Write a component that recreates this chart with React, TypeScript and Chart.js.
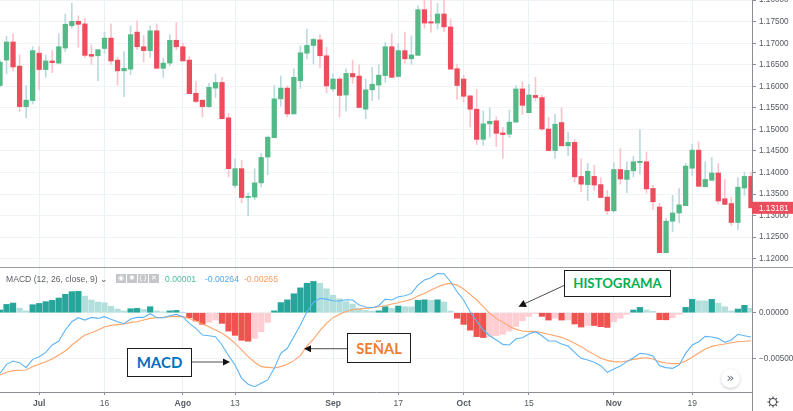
import React, { useEffect, useRef } from "react";
import { Chart, registerables } from "chart.js";

Chart.register(...registerables);

const opens = [
  1.1602, 1.1661, 1.1703, 1.1647, 1.1553, 1.1567, 1.1677, 1.1639, 1.1659, 1.1654,
  1.1689, 1.1741, 1.1751, 1.1745, 1.1674, 1.1671, 1.1688, 1.1712, 1.1661, 1.1636,
  1.1640, 1.1726, 1.1692, 1.1683, 1.1729, 1.1642, 1.1654, 1.1707, 1.1692, 1.1661,
  1.1584, 1.1568, 1.1553, 1.1596, 1.1609, 1.1527, 1.1370, 1.1409, 1.1342, 1.1343,
  1.1376, 1.1436, 1.1481, 1.1571, 1.1596, 1.1536, 1.1613, 1.1677, 1.1695, 1.1708,
  1.1671, 1.1594, 1.1617, 1.1580, 1.1630, 1.1624, 1.1547, 1.1592, 1.1603, 1.1625,
  1.1692, 1.1623, 1.1683, 1.1664, 1.1672, 1.1778, 1.1750, 1.1747, 1.1768, 1.1738,
  1.1641, 1.1617, 1.1578, 1.1547, 1.1477, 1.1513, 1.1520, 1.1492, 1.1489, 1.1517,
  1.1594, 1.1539, 1.1579, 1.1574, 1.1501, 1.1451, 1.1516, 1.1462, 1.1470, 1.1391,
  1.1372, 1.1391, 1.1372, 1.1343, 1.1311, 1.1407, 1.1384, 1.1404, 1.1423, 1.1425,
  1.1363, 1.1320, 1.1214, 1.1287, 1.1306, 1.1323, 1.1410, 1.1452, 1.1367, 1.1382,
  1.1399, 1.1339, 1.1328, 1.1284, 1.1364, 1.1391,
];
const closes = [
  1.1656, 1.1703, 1.1645, 1.1553, 1.1568, 1.1683, 1.1639, 1.1659, 1.1655, 1.1692,
  1.1744, 1.1751, 1.1744, 1.1672, 1.1670, 1.1685, 1.1712, 1.1659, 1.1636, 1.1642,
  1.1720, 1.1692, 1.1683, 1.1729, 1.1642, 1.1654, 1.1707, 1.1692, 1.1659, 1.1583,
  1.1565, 1.1553, 1.1598, 1.1609, 1.1525, 1.1409, 1.1409, 1.1342, 1.1345, 1.1376,
  1.1435, 1.1482, 1.1571, 1.1596, 1.1536, 1.1621, 1.1678, 1.1695, 1.1709, 1.1671,
  1.1601, 1.1617, 1.1579, 1.1630, 1.1622, 1.1551, 1.1592, 1.1605, 1.1626, 1.1692,
  1.1621, 1.1683, 1.1664, 1.1673, 1.1778, 1.1747, 1.1747, 1.1768, 1.1738, 1.1640,
  1.1602, 1.1577, 1.1547, 1.1477, 1.1513, 1.1519, 1.1491, 1.1488, 1.1517, 1.1594,
  1.1556, 1.1580, 1.1574, 1.1501, 1.1451, 1.1512, 1.1462, 1.1470, 1.1390, 1.1373,
  1.1403, 1.1371, 1.1342, 1.1311, 1.1407, 1.1385, 1.1405, 1.1425, 1.1426, 1.1362,
  1.1332, 1.1214, 1.1287, 1.1306, 1.1325, 1.1415, 1.1452, 1.1368, 1.1384, 1.1399,
  1.1334, 1.1326, 1.1284, 1.1366, 1.1391, 1.13181,
];
const highs = [
  1.1661, 1.1716, 1.1722, 1.1673, 1.1602, 1.1692, 1.1692, 1.1673, 1.1683, 1.1722,
  1.1768, 1.1793, 1.1764, 1.1758, 1.1696, 1.1686, 1.1726, 1.1745, 1.1667, 1.1681,
  1.1740, 1.1752, 1.1718, 1.1741, 1.1745, 1.1665, 1.1720, 1.1748, 1.1700, 1.1669,
  1.1611, 1.1568, 1.1607, 1.1629, 1.1621, 1.1537, 1.1432, 1.1428, 1.1353, 1.1409,
  1.1444, 1.1485, 1.1602, 1.1624, 1.1601, 1.1641, 1.1694, 1.1733, 1.1712, 1.1720,
  1.1691, 1.1629, 1.1621, 1.1641, 1.1661, 1.1650, 1.1617, 1.1644, 1.1650, 1.1702,
  1.1722, 1.1699, 1.1726, 1.1717, 1.1787, 1.1810, 1.1812, 1.1793, 1.1806, 1.1757,
  1.1652, 1.1626, 1.1578, 1.1593, 1.1543, 1.1550, 1.1529, 1.1505, 1.1545, 1.1602,
  1.1611, 1.1605, 1.1621, 1.1580, 1.1528, 1.1535, 1.1550, 1.1494, 1.1477, 1.1432,
  1.1421, 1.1417, 1.1388, 1.1359, 1.1423, 1.1456, 1.1425, 1.1438, 1.1499, 1.1448,
  1.1370, 1.1329, 1.1293, 1.1347, 1.1363, 1.1421, 1.1465, 1.1471, 1.1425, 1.1435,
  1.1421, 1.1384, 1.1343, 1.1388, 1.1401, 1.1401,
];
const lows = [
  1.1599, 1.1629, 1.1636, 1.1541, 1.1527, 1.1559, 1.1592, 1.1621, 1.1632, 1.1652,
  1.1681, 1.1735, 1.1691, 1.1667, 1.1651, 1.1613, 1.1677, 1.1651, 1.1603, 1.1576,
  1.1627, 1.1685, 1.1656, 1.1667, 1.1642, 1.1621, 1.1648, 1.1685, 1.1659, 1.1583,
  1.1562, 1.1529, 1.1551, 1.1574, 1.1524, 1.1390, 1.1364, 1.1330, 1.1300, 1.1337,
  1.1366, 1.1395, 1.1481, 1.1554, 1.1529, 1.1536, 1.1595, 1.1664, 1.1652, 1.1643,
  1.1585, 1.1589, 1.1529, 1.1543, 1.1607, 1.1551, 1.1525, 1.1567, 1.1570, 1.1609,
  1.1621, 1.1621, 1.1654, 1.1651, 1.1672, 1.1735, 1.1726, 1.1733, 1.1727, 1.1640,
  1.1570, 1.1564, 1.1506, 1.1465, 1.1463, 1.1482, 1.1460, 1.1433, 1.1481, 1.1517,
  1.1535, 1.1539, 1.1566, 1.1498, 1.1451, 1.1433, 1.1462, 1.1439, 1.1378, 1.1355,
  1.1335, 1.1359, 1.1342, 1.1303, 1.1308, 1.1373, 1.1353, 1.1390, 1.1396, 1.1352,
  1.1314, 1.1214, 1.1214, 1.1263, 1.1283, 1.1323, 1.1393, 1.1368, 1.1367, 1.1382,
  1.1328, 1.1326, 1.1277, 1.1267, 1.1347, 1.13181,
];
const histogram = [
  0.0003, 0.0009, 0.00105, 0.0005, 0.0002, 0.00087, 0.00101, 0.0012, 0.00134, 0.0016,
  0.002, 0.00229, 0.00232, 0.0018, 0.00138, 0.00116, 0.00108, 0.0007, 0.0004, 0.00018,
  0.00043, 0.00047, 0.00036, 0.00065, 0.0002, 0.0001, 0.0002, 0.00025, 0.00002, -0.00054,
  -0.0009, -0.00127, -0.00105, -0.0008, -0.00116, -0.002, -0.00246, -0.003, -0.0031, -0.0028,
  -0.00206, -0.00105, 0.0002, 0.0011, 0.0014, 0.00206, 0.0027, 0.0032, 0.0034, 0.0032,
  0.0026, 0.0019, 0.0015, 0.0012, 0.00094, 0.0005, 0.00025, 0.00018, 0.0002, 0.00065,
  0.00047, 0.00072, 0.00065, 0.00064, 0.00134, 0.0014, 0.00134, 0.0014, 0.00116, 0.00018,
  -0.0006, -0.00127, -0.0019, -0.0026, -0.0027, -0.0026, -0.0025, -0.00235, -0.002, -0.0015,
  -0.00087, -0.0004, -0.0001, -0.0004, -0.0008, -0.0006, -0.0008, -0.00078, -0.00123, -0.00156,
  -0.00138, -0.00139, -0.00152, -0.0016, -0.001, -0.0006, -0.00018, 0.00029, 0.00058, 0.00029,
  0.00014, -0.00076, -0.00077, -0.00054, -0.00018, 0.00058, 0.00145, 0.0013, 0.00129, 0.00145,
  0.00105, 0.00065, 0.0002, 0.0004, 0.0008, 0.0005,
];
const macdLine = [
  -0.00659, -0.00561, -0.00525, -0.00543, -0.00597, -0.00507, -0.00478, -0.00431, -0.00351, -0.00308,
  -0.00188, -0.00098, -0.00054, -0.0008, -0.00051, -0.00062, -0.00043, -0.00072, -0.00098, -0.00119,
  -0.00069, -0.00051, -0.00051, -0.00011, -0.00054, -0.00054, -0.00033, -0.00018, -0.00043, -0.00116,
  -0.0017, -0.00243, -0.0025, -0.00261, -0.00351, -0.00467, -0.00568, -0.00713, -0.00778, -0.00804,
  -0.00767, -0.00731, -0.00605, -0.00442, -0.00387, -0.00261, -0.00134, 0.00011, 0.00112, 0.00156,
  0.00148, 0.0013, 0.00127, 0.00141, 0.00138, 0.00083, 0.00062, 0.00054, 0.00076, 0.00148,
  0.00138, 0.00174, 0.00185, 0.0021, 0.003, 0.00355, 0.0038, 0.00427, 0.00424, 0.00337,
  0.00228, 0.00138, 0.00011, -0.00091, -0.00188, -0.0025, -0.00297, -0.00344, -0.00351, -0.00286,
  -0.00272, -0.00232, -0.00206, -0.0025, -0.00308, -0.00308, -0.0034, -0.00362, -0.00431, -0.00496,
  -0.00514, -0.00539, -0.00576, -0.00648, -0.00612, -0.00579, -0.00532, -0.00489, -0.00442, -0.00449,
  -0.00471, -0.00576, -0.00597, -0.00605, -0.00568, -0.00442, -0.00351, -0.00315, -0.00257, -0.00264,
  -0.00279, -0.00322, -0.00297, -0.00235, -0.0025, -0.00264,
];
const signalLine = [
  -0.00677, -0.00648, -0.0063, -0.00626, -0.00623, -0.00586, -0.00561, -0.00532, -0.00503, -0.0046,
  -0.00416, -0.00351, -0.00297, -0.00243, -0.00217, -0.00188, -0.00156, -0.00138, -0.0013, -0.00123,
  -0.00105, -0.00098, -0.0008, -0.00062, -0.00054, -0.00051, -0.00043, -0.0004, -0.00043, -0.00062,
  -0.00091, -0.00123, -0.00152, -0.00188, -0.00224, -0.00272, -0.00333, -0.00405, -0.00478, -0.00539,
  -0.00586, -0.00594, -0.00601, -0.00586, -0.00561, -0.00521, -0.00467, -0.00362, -0.00286, -0.00195,
  -0.00116, -0.00054, -0.00018, 0.00014, 0.00033, 0.0004, 0.00047, 0.00054, 0.00065, 0.00076,
  0.00094, 0.00109, 0.00127, 0.00145, 0.00181, 0.0021, 0.00246, 0.00279, 0.00308, 0.00319,
  0.003, 0.00257, 0.00199, 0.00138, 0.00065, -0.00007, -0.00062, -0.00105, -0.00148, -0.00181,
  -0.00199, -0.00206, -0.00203, -0.00217, -0.00235, -0.0025, -0.00268, -0.00297, -0.00333, -0.00369,
  -0.00416, -0.00453, -0.00496, -0.00518, -0.00532, -0.00536, -0.00525, -0.00507, -0.00496, -0.00489,
  -0.00503, -0.00532, -0.00547, -0.00554, -0.00554, -0.00525, -0.00485, -0.00438, -0.00395, -0.00366,
  -0.00351, -0.0034, -0.00326, -0.00315, -0.00311, -0.00304,
];
const xTickIndex = [6, 16, 28, 36, 51, 61, 71, 81, 94, 106];
const xTickLabels = ["Jul", "16", "Ago", "13", "Sep", "17", "Oct", "15", "Nov", "19"];
const monthLabels = ["Jul", "Ago", "Sep", "Oct", "Nov"];
const priceTicks = [1.12, 1.125, 1.13, 1.135, 1.14, 1.145, 1.15, 1.155, 1.16, 1.165, 1.17, 1.175, 1.18];
const macdTicks = [0, -0.005];

const AXIS_FONT = "'Liberation Sans', Arial, sans-serif";
const GRID_X = "#e9f0f4";
const GRID_Y = "#f0f3f6";
const AXIS_LINE = "#8a8d93";
const TEXT = "#555a62";
const UP = "#53b987";
const DOWN = "#eb4d5c";
const SLOT = 6.53;
const PLOT_W = 752;

const xScale = (showLabels: boolean) => ({
  type: "linear" as const,
  min: 0,
  max: PLOT_W / SLOT,
  offset: false,
  afterBuildTicks: (axis: any) => {
    axis.ticks = xTickIndex.map((value) => ({ value }));
  },
  afterFit: (axis: any) => {
    axis.height = showLabels ? 19 : 0;
    axis.paddingLeft = 0;
    axis.paddingRight = 0;
  },
  grid: { color: GRID_X, offset: false, drawTicks: showLabels, tickLength: 3, tickColor: AXIS_LINE },
  border: { display: showLabels, color: AXIS_LINE, width: 1 },
  ticks: {
    display: showLabels,
    autoSkip: false,
    maxRotation: 0,
    padding: 4,
    color: TEXT,
    font: (ctx: any) => ({
      family: AXIS_FONT,
      size: 8.5,
      weight: monthLabels.includes(xTickLabels[ctx.index]) ? "bold" : "normal",
    }),
    callback: (_v: any, i: number) => xTickLabels[i],
  },
});

const yScale = (min: number, max: number, ticks: number[], fmt: (v: number) => string) => ({
  position: "right" as const,
  min,
  max,
  afterBuildTicks: (axis: any) => {
    axis.ticks = ticks.map((value) => ({ value }));
  },
  afterFit: (axis: any) => {
    axis.width = 41;
    axis.paddingTop = 0;
    axis.paddingBottom = 0;
  },
  grid: { color: GRID_Y, tickLength: 4, tickColor: AXIS_LINE },
  border: { color: AXIS_LINE, width: 1 },
  ticks: {
    padding: 3,
    color: TEXT,
    font: { family: AXIS_FONT, size: 8.2 },
    callback: (v: any) => fmt(Number(v)),
  },
});

const lastPricePlugin = {
  id: "lastPrice",
  afterDraw(chart: any) {
    const close = closes[closes.length - 1];
    const y = chart.scales.y.getPixelForValue(close);
    const { ctx } = chart;
    ctx.save();
    ctx.fillStyle = DOWN;
    ctx.fillRect(PLOT_W, y - 6, 41, 12);
    ctx.fillStyle = "#ffffff";
    ctx.font = `8.2px ${AXIS_FONT}`;
    ctx.textBaseline = "middle";
    ctx.fillText(close.toFixed(5), PLOT_W + 7, y + 0.5);
    ctx.restore();
  },
};

function PriceChart() {
  const ref = useRef<HTMLCanvasElement>(null);
  useEffect(() => {
    const dir = opens.map((o, i) => closes[i] >= o);
    const chart = new Chart(ref.current as HTMLCanvasElement, {
      type: "bar",
      data: {
        datasets: [
          {
            label: "Body",
            data: opens.map((o, i) => ({ x: i, y: [o, closes[i]] })) as any,
            backgroundColor: dir.map((d) => (d ? UP : DOWN)),
            barThickness: 4.6,
            order: 1,
          },
          {
            label: "Wick",
            data: lows.map((l, i) => ({ x: i, y: [l, highs[i]] })) as any,
            backgroundColor: dir.map((d) => (d ? "#bcdade" : "#fdc3ca")),
            barThickness: 1,
            order: 2,
          },
        ],
      },
      options: {
        animation: false,
        responsive: false,
        events: [],
        layout: { padding: 0 },
        datasets: { bar: { grouped: false } },
        plugins: { legend: { display: false }, tooltip: { enabled: false } },
        scales: {
          x: xScale(false) as any,
          y: yScale(1.11807, 1.18005, priceTicks, (v) => v.toFixed(5)) as any,
        },
      },
      plugins: [lastPricePlugin],
    });
    return () => chart.destroy();
  }, []);
  return <canvas ref={ref} width={793} height={267} style={{ position: "absolute", left: 0, top: 0, display: "block" }} />;
}

function MacdChart() {
  const ref = useRef<HTMLCanvasElement>(null);
  useEffect(() => {
    const shade = histogram.map((v, i) => {
      const growing = i === 0 || Math.abs(v) > Math.abs(histogram[i - 1]) || v * histogram[i - 1] < 0;
      if (v >= 0) return growing ? "#26a69a" : "#b2dfdb";
      return growing ? "#ef5350" : "#ffcdd2";
    });
    const chart = new Chart(ref.current as HTMLCanvasElement, {
      type: "bar",
      data: {
        datasets: [
          {
            type: "line",
            label: "MACD",
            data: macdLine.map((y, x) => ({ x, y })),
            borderColor: "#5db4f6",
            borderWidth: 1.1,
            pointRadius: 0,
            order: 1,
          },
          {
            type: "line",
            label: "Señal",
            data: signalLine.map((y, x) => ({ x, y })),
            borderColor: "#ffa46a",
            borderWidth: 1.1,
            pointRadius: 0,
            order: 2,
          },
          {
            type: "bar",
            label: "Histograma",
            data: histogram.map((y, x) => ({ x, y })),
            backgroundColor: shade,
            barThickness: 5.6,
            order: 3,
          },
        ],
      } as any,
      options: {
        animation: false,
        responsive: false,
        events: [],
        layout: { padding: 0 },
        plugins: { legend: { display: false }, tooltip: { enabled: false } },
        scales: {
          x: xScale(true) as any,
          y: yScale(-0.00862, 0.00497, macdTicks, (v) => (v === 0 ? "0.00000" : "\u2212" + Math.abs(v).toFixed(5))) as any,
        },
      },
    });
    return () => chart.destroy();
  }, []);
  return <canvas ref={ref} width={793} height={144} style={{ position: "absolute", left: 0, top: 267, display: "block" }} />;
}

function Callout(props: { left: number; top: number; width: number; height: number; color: string; size: number; text: string }) {
  const { left, top, width, height, color, size, text } = props;
  return (
    <div
      style={{
        position: "absolute",
        left,
        top,
        width,
        height,
        boxSizing: "border-box",
        border: "1px solid #1c1c1c",
        background: "#fff",
        color,
        fontFamily: "Lato, sans-serif",
        fontWeight: 700,
        fontSize: size,
        lineHeight: height - 2 + "px",
        textAlign: "center",
        whiteSpace: "nowrap",
      }}
    >
      {text}
    </div>
  );
}

function ToolIcon(props: { left: number; glyph: string; size?: number }) {
  return (
    <div
      style={{
        position: "absolute",
        left: props.left,
        top: 274,
        width: 10,
        height: 9,
        background: "#c4c6c9",
        color: "#fff",
        fontFamily: "'DejaVu Sans', sans-serif",
        fontSize: props.size || 7,
        lineHeight: "9px",
        textAlign: "center",
        overflow: "hidden",
      }}
    >
      {props.glyph}
    </div>
  );
}

function LegendText(props: { left: number; color: string; text: string }) {
  return (
    <div
      style={{
        position: "absolute",
        left: props.left,
        top: 273,
        color: props.color,
        fontFamily: AXIS_FONT,
        fontSize: 8.6,
        lineHeight: "12px",
        whiteSpace: "nowrap",
      }}
    >
      {props.text}
    </div>
  );
}

function Overlay() {
  const gearTeeth = Array.from({ length: 8 }, (_, k) => k * 45);
  return (
    <>
      <div style={{ position: "absolute", left: 0, top: 267, width: 793, height: 1, background: "#9b9ea3" }} />
      <div style={{ position: "absolute", left: 752, top: 392, width: 1, height: 19, background: AXIS_LINE }} />
      <LegendText left={6} color="#5a5f66" text="MACD (12, 26, close, 9)" />
      <LegendText left={100} color="#5a5f66" text="⌄" />
      <ToolIcon left={116} glyph="◉" />
      <ToolIcon left={127} glyph="✹" />
      <ToolIcon left={138} glyph="{}" />
      <ToolIcon left={149} glyph="✕" />
      <LegendText left={165} color="#53b9a0" text="0.00001" />
      <LegendText left={205} color="#4da6f0" text="-0.00264" />
      <LegendText left={244} color="#ff9a5c" text="-0.00265" />

      <svg width={793} height={411} style={{ position: "absolute", left: 0, top: 0, pointerEvents: "none" }}>
        <line x1={191} y1={362} x2={224} y2={362} stroke="#222" strokeWidth={0.8} />
        <polygon points="230,362 223,358.5 223,365.5" fill="#111" />
        <line x1={347} y1={348.7} x2={309} y2={348.7} stroke="#222" strokeWidth={0.8} />
        <polygon points="304,348.7 311,345.2 311,352.2" fill="#111" />
        <line x1={564} y1={285.5} x2={525} y2={303.5} stroke="#222" strokeWidth={0.8} />
        <polygon points="518.5,306.8 523.5,300 527,307" fill="#111" />
        <g transform="translate(773 402)" fill="none" stroke="#3c3f45" strokeWidth={1}>
          <circle r={3.6} />
          {gearTeeth.map((a) => (
            <line key={a} x1={0} y1={-3.8} x2={0} y2={-5.6} transform={`rotate(${a})`} />
          ))}
        </g>
      </svg>

      <Callout left={127} top={348} width={65} height={29} color="#0070c0" size={15} text="MACD" />
      <Callout left={347} top={333} width={64} height={30} color="#ed7d31" size={14.7} text="SEÑAL" />
      <Callout left={564} top={270} width={107} height={27} color="#00b050" size={13.2} text="HISTOGRAMA" />

      <div
        style={{
          position: "absolute",
          left: 721,
          top: 369,
          width: 19,
          height: 19,
          borderRadius: "50%",
          background: "#fff",
          boxShadow: "0 1px 3px rgba(0,0,0,0.22)",
          color: "#6b7078",
          fontFamily: "'DejaVu Sans', sans-serif",
          fontSize: 13,
          lineHeight: "17px",
          textAlign: "center",
        }}
      >
        »
      </div>
    </>
  );
}

export default function App() {
  return (
    <div style={{ position: "fixed", left: 0, top: 0, width: 793, height: 411, background: "#fff", overflow: "hidden" }}>
      <PriceChart />
      <MacdChart />
      <Overlay />
    </div>
  );
}
